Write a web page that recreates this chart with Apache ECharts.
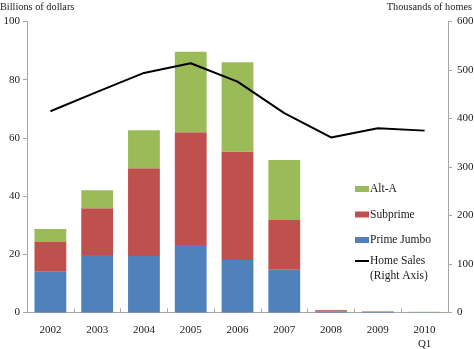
<!DOCTYPE html>
<html>
<head>
<meta charset="utf-8">
<script src="https://cdn.jsdelivr.net/npm/echarts@6/dist/echarts.min.js"></script>
<style>
  html, body { margin: 0; padding: 0; background: #fff; }
  #chart { width: 474px; height: 349px; }
</style>
</head>
<body>
<div id="chart"></div>
<script>
// Non-agency mortgage securitization by type (billions of dollars) and home sales (thousands)
const years = ['2002', '2003', '2004', '2005', '2006', '2007', '2008', '2009', '2010\nQ1'];
const primeJumbo = [14.0, 19.8, 19.4, 23.2, 18.0, 14.7, 0.4, 0.2, 0.05];
const subprime   = [10.2, 16.0, 30.2, 38.7, 37.3, 17.1, 0.4, 0.15, 0.05];
const altA       = [4.5, 6.2, 13.0, 27.7, 30.7, 20.6, 0.1, 0.05, 0.15];
const homeSales  = [415, 455, 494, 514, 476, 411, 361, 380, 375];
const leftTicks  = [0, 100, 20];   // min, max, interval
const rightTicks = [0, 600, 100];

const serif = '"Liberation Serif", "DejaVu Serif", serif';
const axisGray = '#a6a6a6';
const textColor = '#1a1a1a';

const chart = echarts.init(document.getElementById('chart'));
chart.setOption({
  animation: false,
  textStyle: { fontFamily: serif },
  grid: { left: 27, right: 26, top: 21.5, bottom: 36.5, containLabel: false, outerBoundsMode: 'none' },
  xAxis: {
    type: 'category',
    data: years,
    axisLine: { lineStyle: { color: axisGray, width: 1 } },
    axisTick: { show: true, inside: true, length: 4, lineStyle: { color: axisGray } },
    axisLabel: { color: textColor, fontSize: 11, fontFamily: serif, margin: 11, lineHeight: 14 }
  },
  yAxis: [
    {
      type: 'value',
      min: leftTicks[0], max: leftTicks[1], interval: leftTicks[2],
      name: 'Billions of dollars',
      nameLocation: 'end',
      nameGap: 9,
      nameTextStyle: { color: textColor, fontSize: 10.3, fontFamily: serif, align: 'left', padding: [0, 0, 0, -27] },
      axisLine: { show: true, lineStyle: { color: axisGray } },
      axisTick: { show: true, length: 4, lineStyle: { color: axisGray } },
      axisLabel: { color: textColor, fontSize: 11, fontFamily: serif, margin: 7 },
      splitLine: { show: false }
    },
    {
      type: 'value',
      position: 'right',
      min: rightTicks[0], max: rightTicks[1], interval: rightTicks[2],
      name: 'Thousands of homes',
      nameLocation: 'end',
      nameGap: 9,
      nameTextStyle: { color: textColor, fontSize: 10.3, fontFamily: serif, align: 'right', padding: [0, -24, 0, 0] },
      axisLine: { show: true, lineStyle: { color: axisGray } },
      axisTick: { show: true, length: 4, lineStyle: { color: axisGray } },
      axisLabel: { color: textColor, fontSize: 11, fontFamily: serif, margin: 9 },
      splitLine: { show: false }
    }
  ],
  legend: [
    {
      orient: 'vertical',
      left: 355, top: 183,
      padding: 0,
      itemWidth: 14, itemHeight: 6,
      itemGap: 13.5,
      icon: 'rect',
      textStyle: { color: textColor, fontSize: 11.5, fontFamily: serif, padding: [0, 0, 0, -4] },
      data: ['Alt-A', 'Subprime', 'Prime Jumbo']
    },
    {
      orient: 'vertical',
      left: 355, top: 255,
      padding: 0,
      itemWidth: 14, itemHeight: 2,
      icon: 'rect',
      textStyle: { color: textColor, fontSize: 11.5, fontFamily: serif, padding: [0, 0, 0, -4] },
      data: ['Home Sales']
    }
  ],
  graphic: [
    {
      type: 'text',
      left: 370, top: 269.5,
      style: { text: '(Right Axis)', fill: textColor, font: '11.5px ' + serif }
    }
  ],
  series: [
    {
      name: 'Prime Jumbo', type: 'bar', stack: 'total', barWidth: '68%',
      itemStyle: { color: '#4f81bd' }, data: primeJumbo
    },
    {
      name: 'Subprime', type: 'bar', stack: 'total',
      itemStyle: { color: '#c0504d' }, data: subprime
    },
    {
      name: 'Alt-A', type: 'bar', stack: 'total',
      itemStyle: { color: '#9bbb59' }, data: altA
    },
    {
      name: 'Home Sales', type: 'line', yAxisIndex: 1,
      symbol: 'none',
      lineStyle: { color: '#000', width: 2 },
      itemStyle: { color: '#000' },
      data: homeSales
    }
  ]
});
</script>
</body>
</html>
